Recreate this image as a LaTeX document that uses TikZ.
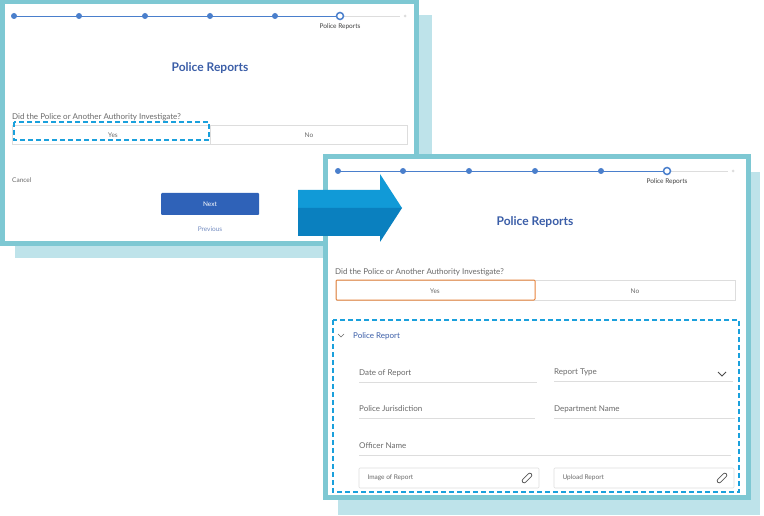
\documentclass[tikz,border=0pt]{standalone}
\usepackage{fontspec}
\setmainfont{Lato}
\usetikzlibrary{positioning}
\definecolor{frame}{HTML}{7EC8D3}
\definecolor{shadowblue}{HTML}{BEE3EA}
\definecolor{stepblue}{HTML}{4A7FCC}
\definecolor{titleblue}{HTML}{3B5EA8}
\definecolor{btnblue}{HTML}{2F62B8}
\definecolor{hiblue}{HTML}{1AA0DC}
\definecolor{arrtop}{HTML}{119AD7}
\definecolor{arrbot}{HTML}{0A80BF}
\definecolor{txtgrey}{HTML}{6A6A6A}
\definecolor{linegrey}{HTML}{DDDDDD}
\definecolor{pick}{HTML}{E8843C}
\begin{document}
\begin{tikzpicture}[
  x=1pt, y=-1pt,
  panel/.style={draw=frame, line width=5pt, fill=white},
  dotstep/.style={circle, fill=stepblue, inner sep=0pt, minimum size=6pt},
  ringstep/.style={circle, draw=stepblue, line width=1.5pt, fill=white, inner sep=0pt, minimum size=7pt},
  steplabel/.style={font=\fontsize{6.5}{7}\selectfont, text=black!75},
  title/.style={font=\bfseries\fontsize{12}{14}\selectfont, text=titleblue},
  question/.style={font=\fontsize{8}{9}\selectfont, text=txtgrey, anchor=west, inner sep=0pt},
  small/.style={font=\fontsize{6.5}{7}\selectfont, text=txtgrey},
  field/.style={font=\fontsize{8}{9}\selectfont, text=txtgrey, anchor=west, inner sep=0pt},
  choice/.style={draw=linegrey, line width=0.6pt},
  hilite/.style={draw=hiblue, line width=1.5pt, dash pattern=on 5pt off 3pt},
  underline/.style={draw=linegrey, line width=0.6pt}
]
\useasboundingbox (0,0) rectangle (764,516);
% shadows
\fill[shadowblue] (15,15) rectangle (432,258);
\fill[shadowblue] (338,172) rectangle (760,515);

% first screen
\draw[panel] (2,2) rectangle (416,244);
\draw[stepblue, line width=0.8pt] (14,16) -- (340,16);
\draw[linegrey, line width=0.8pt] (340,16) -- (400,16);
\foreach \sx in {14,79,145,210,275}
  \node[dotstep] at (\sx,16) {};
\node[ringstep] (ringa) at (340,16) {};
\fill[linegrey] (405,16) circle (1.5pt);
\node[steplabel, below=0pt of ringa] (stepa) {Police Reports};
\node[title] (titlea) at (210,68) {Police Reports};
\node[question] (qa) at (12,117) {Did the Police or Another Authority Investigate?};
\draw[choice] (12,125) rectangle (407,144);
\draw[choice] (210,125) -- (210,144);
\node[small] (yesa) at (113,135) {Yes};
\node[small] (noa) at (309,135) {No};
\draw[hilite] (14,122) rectangle (209,140);
\node[small, anchor=west, inner sep=0pt] (cancel) at (12,180) {Cancel};
\node[fill=btnblue, text=white, font=\fontsize{6.5}{7}\selectfont, minimum width=98pt, minimum height=22pt, inner sep=0pt, rounded corners=1pt] (next) at (210,204) {Next};
\node[small, text=titleblue!70] (prev) at (210,229) {Previous};

% second screen
\draw[panel] (325,157) rectangle (748,497);
\draw[stepblue, line width=0.8pt] (338,171) -- (667,171);
\draw[linegrey, line width=0.8pt] (667,171) -- (728,171);
\foreach \sx in {338,403,469,535,601}
  \node[dotstep] at (\sx,171) {};
\node[ringstep] (ringb) at (667,171) {};
\fill[linegrey] (733,171) circle (1.5pt);
\node[steplabel, below=0pt of ringb] (stepb) {Police Reports};
\node[title] (titleb) at (535,222) {Police Reports};
\node[question] (qb) at (335,272) {Did the Police or Another Authority Investigate?};
\draw[choice] (336,280) rectangle (735,300);
\draw[pick, line width=1pt, rounded corners=1pt] (336,280) rectangle (535,300);
\node[small] (yesb) at (435,291) {Yes};
\node[small] (nob) at (635,291) {No};

\draw[hilite] (333,320) rectangle (739,492);
\draw[txtgrey, line width=0.7pt] (338,334) -- (341,337) -- (344,334);
\node[field, text=titleblue] (section) at (353,336) {Police Report};

\node[field] (date) at (359,373) {Date of Report};
\draw[underline] (359,382) -- (537,382);
\node[field] (rtype) at (554,372) {Report Type};
\draw[underline] (554,381) -- (733,381);
\draw[black!70, line width=0.8pt] (718,372) -- (722,376) -- (726,372);
\node[field] (juris) at (359,409) {Police Jurisdiction};
\draw[underline] (359,418) -- (535,418);
\node[field] (dept) at (554,409) {Department Name};
\draw[underline] (554,418) -- (735,418);
\node[field] (officer) at (359,446) {Officer Name};
\draw[underline] (359,455) -- (731,455);

\draw[choice, rounded corners=1pt] (359,468) rectangle (539,488);
\node[small, anchor=west] (image) at (364,478) {Image of Report};
\draw[choice, rounded corners=1pt] (554,468) rectangle (734,488);
\node[small, anchor=west] (upload) at (559,478) {Upload Report};
\foreach \cx in {527,722}
  \draw[black!65, line width=0.8pt, rotate around={45:(\cx,478)}, rounded corners=2pt]
    (\cx-6,476) rectangle (\cx+6,480);

% arrow
\fill[arrtop] (298,190) -- (380,190) -- (380,174) -- (402,208) -- (298,208) -- cycle;
\fill[arrbot] (298,208) -- (402,208) -- (380,242) -- (380,236) -- (298,236) -- cycle;
\end{tikzpicture}
\end{document}
